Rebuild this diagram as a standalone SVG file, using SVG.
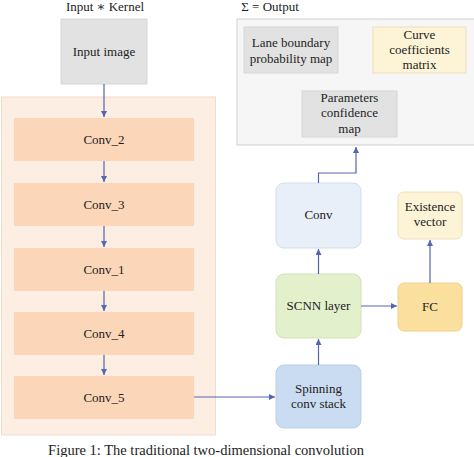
<svg xmlns="http://www.w3.org/2000/svg" width="474" height="457" viewBox="0 0 474 457">
<defs>
<marker id="ah" markerWidth="8" markerHeight="8" refX="6" refY="3" orient="auto" markerUnits="userSpaceOnUse">
<path d="M0,0 L6,3 L0,6 z" fill="#5566b0"/>
</marker>
<style>
text{font-family:'Liberation Serif','Noto Serif','DejaVu Serif',serif;fill:#222;text-anchor:middle;font-size:13px}
.conv rect{fill:#fcd6b8}
.edge{stroke:#5566b0;stroke-width:1.2;fill:none;marker-end:url(#ah)}
.gray{fill:#e2e2e2;stroke:#d6d6d6;stroke-width:1}
.cap{font-size:14.5px}
</style>
</defs>
<rect width="474" height="457" fill="#ffffff"/>
<g font-family="Liberation Serif, serif">
<text x="105" y="11">Input ∗ Kernel</text>
<text x="270" y="11">Σ = Output</text>

<g id="input-image"><rect class="gray" x="61" y="19" width="86" height="65"/><text x="104" y="56">Input image</text></g>

<g id="backbone"><rect x="1.5" y="97" width="214" height="338" fill="#fdeee3" stroke="#f1dccd" stroke-width="1"/></g>
<g id="conv2" class="conv"><rect x="14" y="118" width="180" height="43"/><text x="104" y="144">Conv_2</text></g>
<g id="conv3" class="conv"><rect x="14" y="183" width="180" height="43"/><text x="104" y="209">Conv_3</text></g>
<g id="conv1" class="conv"><rect x="14" y="248" width="180" height="43"/><text x="104" y="274">Conv_1</text></g>
<g id="conv4" class="conv"><rect x="14" y="312" width="180" height="43"/><text x="104" y="338">Conv_4</text></g>
<g id="conv5" class="conv"><rect x="14" y="376" width="180" height="43"/><text x="104" y="402">Conv_5</text></g>

<g id="output"><rect x="237" y="19" width="240" height="126" fill="#f6f6f6" stroke="#cfcfcf" stroke-width="1"/></g>
<g id="lane-map"><rect class="gray" x="244" y="27" width="94" height="46"/><text x="291" y="47">Lane boundary</text><text x="291" y="63">probability map</text></g>
<g id="curve-matrix"><rect x="373" y="27" width="93" height="46" fill="#fdf3d6" stroke="#ecdfb8" stroke-width="1"/><text x="419.5" y="39">Curve</text><text x="419.5" y="54">coefficients</text><text x="419.5" y="69">matrix</text></g>
<g id="param-map"><rect class="gray" x="302" y="91" width="95" height="46"/><text x="349.5" y="102">Parameters</text><text x="349.5" y="117">confidence</text><text x="349.5" y="133">map</text></g>

<g id="conv-right"><rect x="276" y="183" width="85" height="65" rx="8" fill="#e8eff9" stroke="#d3deee" stroke-width="1"/><text x="318.5" y="219">Conv</text></g>
<g id="scnn"><rect x="276" y="274" width="85" height="64" rx="8" fill="#e3f0cc" stroke="#d2e3b8" stroke-width="1"/><text x="318.5" y="310">SCNN layer</text></g>
<g id="spinning"><rect x="276" y="365" width="85" height="63" rx="8" fill="#cadcf1" stroke="#b9cfe8" stroke-width="1"/><text x="318.5" y="393">Spinning</text><text x="318.5" y="408">conv stack</text></g>
<g id="existence"><rect x="398" y="192" width="64" height="47" rx="6" fill="#fdf3d6" stroke="#ecdfb8" stroke-width="1"/><text x="430" y="211">Existence</text><text x="430" y="226">vector</text></g>
<g id="fc"><rect x="398" y="283" width="64" height="48" rx="6" fill="#fbdf9f" stroke="#efd08c" stroke-width="1"/><text x="430" y="311">FC</text></g>

<g id="connectors">
<path class="edge" d="M104,84 V117"/>
<path class="edge" d="M104,161 V182"/>
<path class="edge" d="M104,226 V247"/>
<path class="edge" d="M104,291 V311"/>
<path class="edge" d="M104,355 V375"/>
<path class="edge" d="M194,397 H275"/>
<path class="edge" d="M318.5,365 V339"/>
<path class="edge" d="M318.5,274 V249"/>
<path class="edge" d="M318.5,183 V173 H356 V147"/>
<path class="edge" d="M361,306 H397"/>
<path class="edge" d="M430,283 V240"/>
</g>

<text class="cap" x="206" y="455">Figure 1: The traditional two-dimensional convolution</text>
</g>
</svg>
